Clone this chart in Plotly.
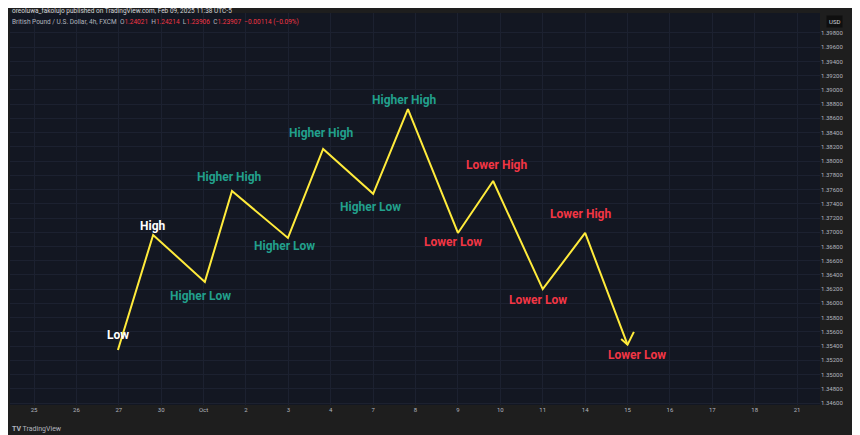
import plotly.graph_objects as go

tick_labels = ["25","26","27","30","Oct","2","3","4","7","8","9","10","11","14","15","16","17","18","21"]
swing_x = [1.98, 2.81, 4.03, 4.67, 5.99, 6.82, 8.0, 8.82, 10.0, 10.83, 12.0, 13.0, 14.0]
swing_y = [1.35346, 1.36962, 1.36302, 1.3758, 1.3692, 1.3817, 1.3754, 1.3873, 1.3699, 1.3772, 1.3620, 1.3699, 1.3542]
labels = ["Low","High","Higher Low","Higher High","Higher Low","Higher High","Higher Low","Higher High",
          "Lower Low","Lower High","Lower Low","Lower High","Lower Low"]
label_x = [1.98, 2.81, 3.92, 4.60, 5.90, 6.77, 7.93, 8.75, 9.88, 10.90, 11.88, 12.90, 14.22]
label_y = [1.3556, 1.3709, 1.3610, 1.3778, 1.3680, 1.3840, 1.3736, 1.3886, 1.3686, 1.3795, 1.3605, 1.3726, 1.3528]
label_col = ["#ffffff","#ffffff"] + ["#22a08c"]*6 + ["#f23645"]*5
price_ticks = [round(1.346 + 0.002*i, 3) for i in range(27)]

fig = go.Figure()
fig.add_trace(go.Scatter(x=swing_x, y=swing_y, mode="lines",
                         line=dict(color="#ffeb3b", width=2), hoverinfo="skip"))
for lx, ly, t, c in zip(label_x, label_y, labels, label_col):
    fig.add_annotation(x=lx, y=ly, text="<b>%s</b>" % t, showarrow=False,
                       font=dict(color=c, size=12, family="Roboto"))
fig.add_trace(go.Scatter(x=[13.85, swing_x[-1], 14.15], y=[1.3550, swing_y[-1], 1.3560], mode="lines",
                         line=dict(color="#ffeb3b", width=2), hoverinfo="skip"))

fig.add_annotation(xref="paper", yref="paper", x=0.0, y=1.0, yshift=-3, xanchor="left", yanchor="top",
                   text="British Pound / U.S. Dollar, 4h, FXCM  O<span style='color:#f23645'>1.24021</span>  H<span style='color:#f23645'>1.24214</span>  L<span style='color:#f23645'>1.23906</span>  C<span style='color:#f23645'>1.23907  −0.00114 (−0.09%)</span>",
                   showarrow=False, font=dict(color="#b2b5be", size=6.5, family="Roboto"))
fig.add_annotation(xref="paper", yref="paper", x=0.0, y=1.0, yshift=8, xanchor="left", yanchor="top",
                   text="oreoluwa_fakolujo published on TradingView.com, Feb 09, 2025 11:38 UTC-5",
                   showarrow=False, font=dict(color="#d1d4dc", size=6.5, family="Roboto"))
fig.add_annotation(xref="paper", yref="paper", x=1.0, y=1.0, xshift=6, yshift=-2, xanchor="left", yanchor="top",
                   text="USD", showarrow=False, bgcolor="#0f0f0f", borderpad=2,
                   font=dict(color="#d1d4dc", size=6, family="Roboto"))
fig.add_annotation(xref="paper", yref="paper", x=0.0, y=0, yshift=-18, xanchor="left", yanchor="top",
                   text="<b>TV</b> TradingView", showarrow=False,
                   font=dict(color="#b2b5be", size=7, family="Roboto"))

fig.update_layout(
    width=852, height=427, showlegend=False,
    margin=dict(l=2, r=40, t=5, b=30),
    paper_bgcolor="#1e1e1e", plot_bgcolor="#131722",
    xaxis=dict(range=[-0.566, 18.54], tickmode="array", tickvals=list(range(19)), ticktext=tick_labels,
               showgrid=True, gridcolor="#1c2130", zeroline=False, ticks="",
               tickfont=dict(color="#b2b5be", size=6, family="Roboto"), fixedrange=True),
    yaxis=dict(range=[1.34572, 1.40081], side="right", tickmode="array", tickvals=price_ticks,
               ticktext=["%.5f" % v for v in price_ticks], showgrid=True, gridcolor="#1c2130",
               zeroline=False, tickfont=dict(color="#b2b5be", size=6, family="Roboto"), fixedrange=True),
)
fig.write_html("out.html")
